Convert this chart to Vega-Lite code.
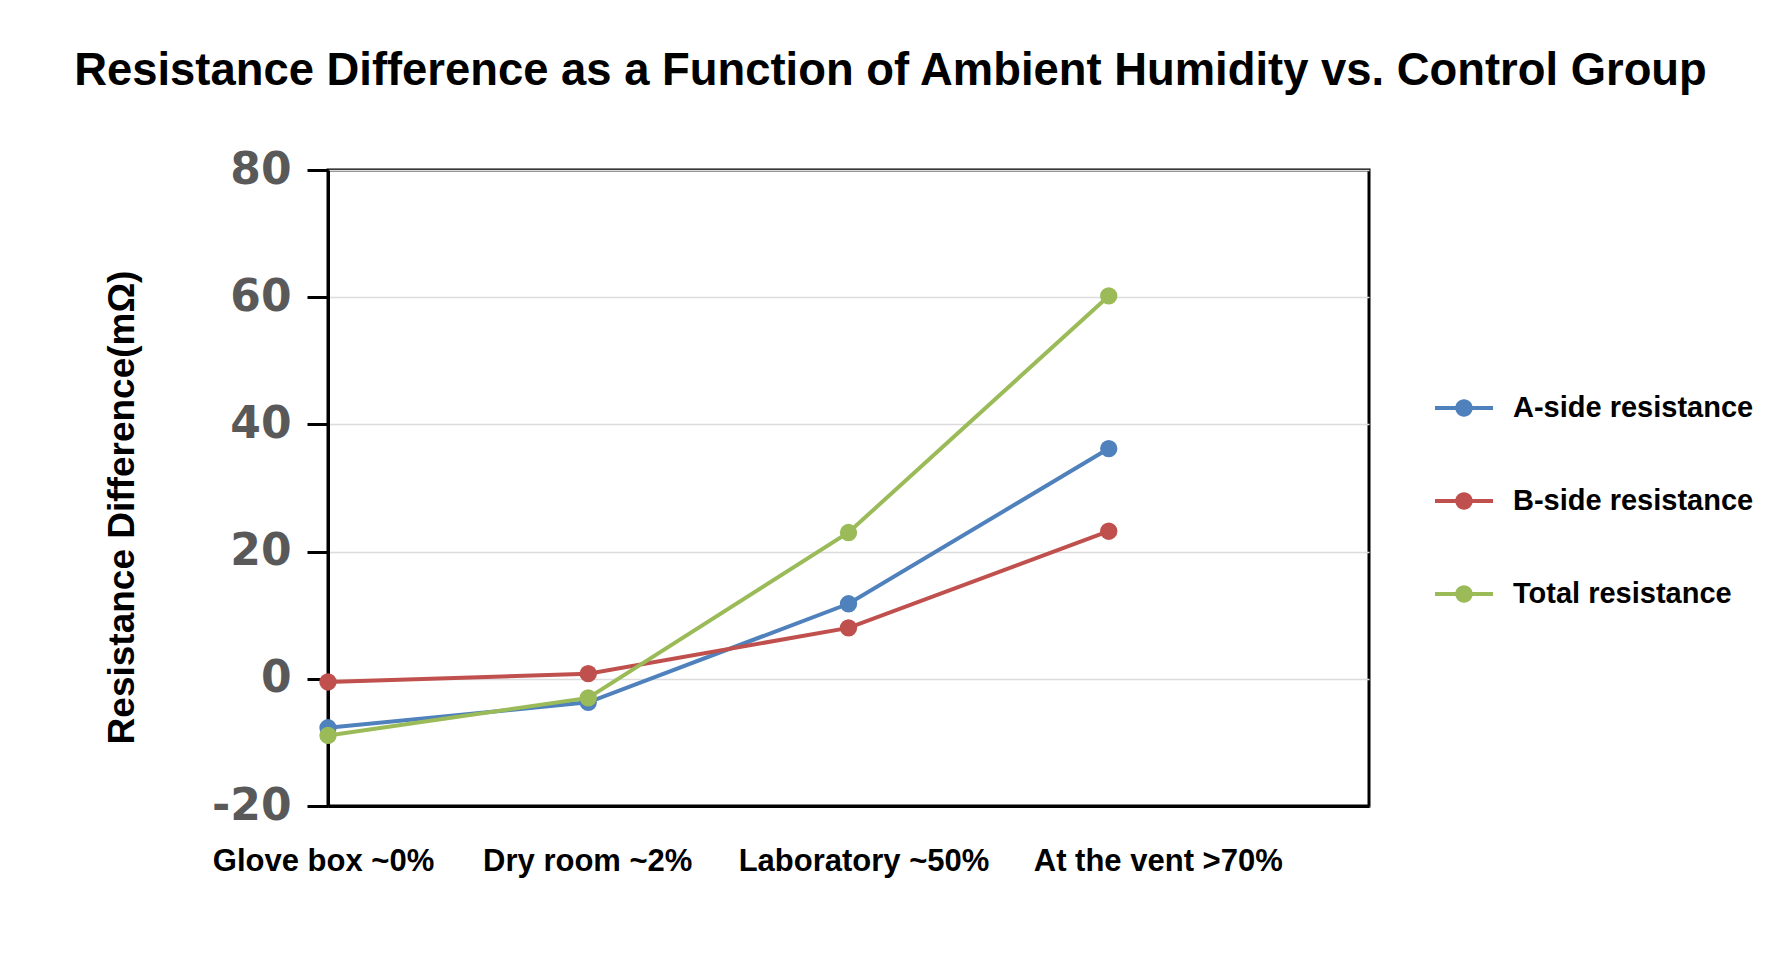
{
  "$schema": "https://vega.github.io/schema/vega-lite/v6.json",
  "autosize": {"type": "none"},
  "padding": {"left": 328, "top": 170, "right": 413, "bottom": 151},
  "width": 1041,
  "height": 636,
  "background": "white",
  "title": {
    "text": "Resistance Difference as a Function of Ambient Humidity vs. Control Group",
    "font": "Liberation Sans",
    "fontWeight": "bold",
    "fontSize": 45.4,
    "color": "black",
    "anchor": "middle",
    "frame": "group",
    "baseline": "alphabetic",
    "offset": 18,
    "dx": 42
  },
  "config": {
    "view": {"stroke": "black", "strokeWidth": 3},
    "axis": {"domainColor": "black", "domainWidth": 3}
  },
  "data": {
    "values": [
      {"condition": "Glove box ~0%", "series": "A-side resistance", "value": -7.7},
      {"condition": "Dry room ~2%", "series": "A-side resistance", "value": -3.7},
      {"condition": "Laboratory ~50%", "series": "A-side resistance", "value": 11.8},
      {"condition": "At the vent >70%", "series": "A-side resistance", "value": 36.2},
      {"condition": "Glove box ~0%", "series": "B-side resistance", "value": -0.5},
      {"condition": "Dry room ~2%", "series": "B-side resistance", "value": 0.8},
      {"condition": "Laboratory ~50%", "series": "B-side resistance", "value": 8.0},
      {"condition": "At the vent >70%", "series": "B-side resistance", "value": 23.2},
      {"condition": "Glove box ~0%", "series": "Total resistance", "value": -8.9},
      {"condition": "Dry room ~2%", "series": "Total resistance", "value": -3.0},
      {"condition": "Laboratory ~50%", "series": "Total resistance", "value": 23.0},
      {"condition": "At the vent >70%", "series": "Total resistance", "value": 60.2}
    ]
  },
  "encoding": {
    "x": {
      "field": "condition",
      "type": "nominal",
      "scale": {
        "type": "point",
        "padding": 0,
        "domain": ["Glove box ~0%", "Dry room ~2%", "Laboratory ~50%", "At the vent >70%", " "]
      },
      "axis": {
        "title": null,
        "labelAngle": 0,
        "ticks": false,
        "tickSize": 0,
        "grid": false,
        "labelFont": "Liberation Sans",
        "labelFontWeight": "bold",
        "labelFontSize": 31,
        "labelColor": "black",
        "labelPadding": 40,
        "labelBaseline": "top",
        "labelLimit": 400,
        "labelOverlap": false,
        "labelOffset": {
          "condition": [
            {"test": "datum.value == 'Glove box ~0%'", "value": -5},
            {"test": "datum.value == 'Dry room ~2%'", "value": -1},
            {"test": "datum.value == 'Laboratory ~50%'", "value": 15},
            {"test": "datum.value == 'At the vent >70%'", "value": 49}
          ],
          "value": 0
        }
      }
    },
    "y": {
      "field": "value",
      "type": "quantitative",
      "scale": {"domain": [-20, 80], "nice": false, "zero": false},
      "axis": {
        "values": [-20, 0, 20, 40, 60, 80],
        "labelExpr": "'' + datum.value",
        "title": "Resistance Difference(mΩ)",
        "titleFont": "Liberation Sans",
        "titleFontWeight": "bold",
        "titleFontSize": 37,
        "titleColor": "black",
        "titleAngle": -90,
        "titleAlign": "center",
        "titleBaseline": "alphabetic",
        "titleX": -195,
        "titleY": 337,
        "labelFont": "DejaVu Sans",
        "labelFontWeight": "bold",
        "labelFontSize": 44,
        "labelColor": "#595959",
        "labelPadding": 16,
        "tickSize": 21,
        "tickWidth": 3,
        "tickColor": "black",
        "grid": true,
        "gridColor": "#dcdcdc",
        "gridWidth": 1.5
      }
    },
    "color": {
      "field": "series",
      "type": "nominal",
      "scale": {
        "domain": ["A-side resistance", "B-side resistance", "Total resistance"],
        "range": ["#4F81BD", "#C0504D", "#9BBB59"]
      },
      "legend": {
        "title": null,
        "orient": "none",
        "legendX": 1107,
        "legendY": 209,
        "padding": 0,
        "rowPadding": 49,
        "symbolType": "M-1,-0.07H1V0.07H-1Z M-0.3,0A0.3,0.3 0 1,1 0.3,0A0.3,0.3 0 1,1 -0.3,0Z",
        "symbolSize": 3364,
        "symbolStrokeWidth": 0,
        "labelFont": "Liberation Sans",
        "labelFontWeight": "bold",
        "labelFontSize": 29,
        "labelColor": "black",
        "labelOffset": 20,
        "labelLimit": 400
      }
    }
  },
  "layer": [
    {"mark": {"type": "line", "strokeWidth": 4}},
    {"mark": {"type": "point", "filled": true, "size": 300, "opacity": 1}}
  ]
}
